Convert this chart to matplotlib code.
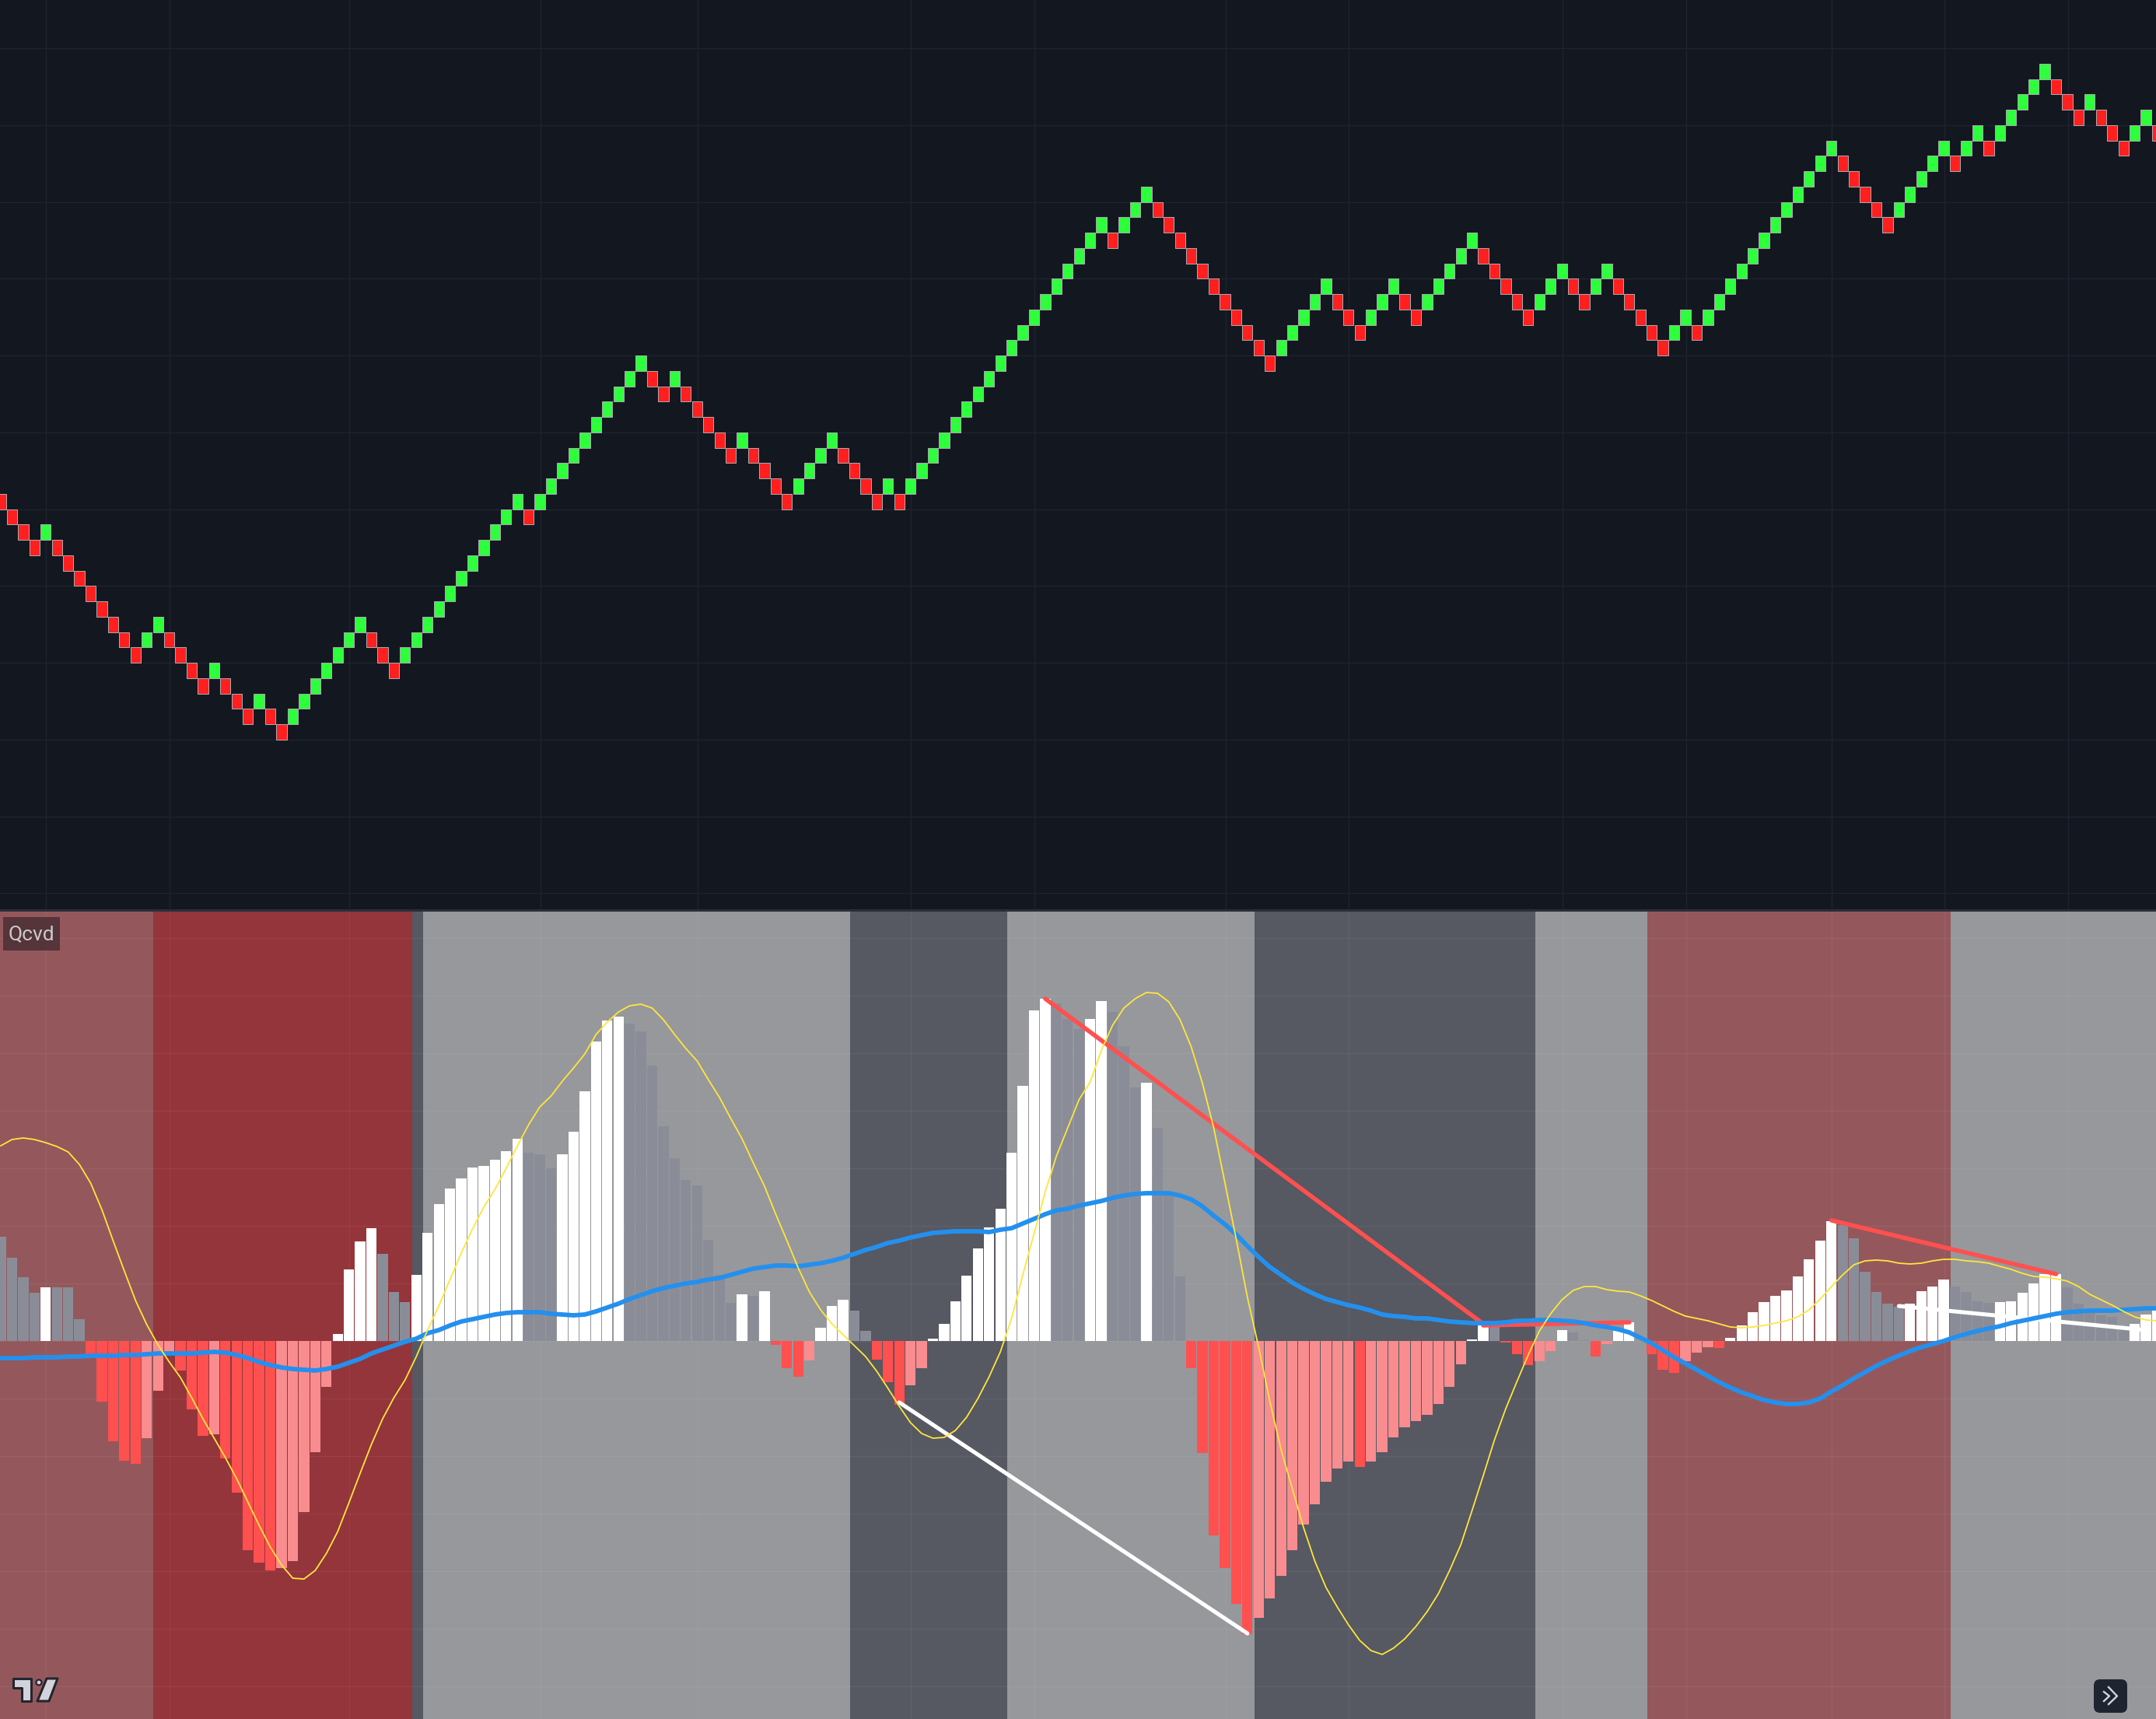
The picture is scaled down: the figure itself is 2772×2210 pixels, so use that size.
import matplotlib
matplotlib.use('Agg')
import matplotlib.pyplot as plt
from matplotlib.patches import Polygon, Circle, FancyBboxPatch, Rectangle
import numpy as np

# renko rows, counted downward from the first brick
renko_rows = [0, 1, 2, 3, 2, 3, 4, 5, 6, 7,
              8, 9, 10, 9, 8, 9, 10, 11, 12, 11,
              12, 13, 14, 13, 14, 15, 14, 13, 12, 11,
              10, 9, 8, 9, 10, 11, 10, 9, 8, 7,
              6, 5, 4, 3, 2, 1, 0, 1, 0, -1,
              -2, -3, -4, -5, -6, -7, -8, -9, -8, -7,
              -8, -7, -6, -5, -4, -3, -4, -3, -2, -1,
              0, -1, -2, -3, -4, -3, -2, -1, 0, -1,
              0, -1, -2, -3, -4, -5, -6, -7, -8, -9,
              -10, -11, -12, -13, -14, -15, -16, -17, -18, -17,
              -18, -19, -20, -19, -18, -17, -16, -15, -14, -13,
              -12, -11, -10, -9, -10, -11, -12, -13, -14, -13,
              -12, -11, -12, -13, -14, -13, -12, -13, -14, -15,
              -16, -17, -16, -15, -14, -13, -12, -13, -14, -15,
              -14, -13, -14, -15, -14, -13, -12, -11, -10, -11,
              -12, -11, -12, -13, -14, -15, -16, -17, -18, -19,
              -20, -21, -22, -23, -22, -21, -20, -19, -18, -19,
              -20, -21, -22, -23, -22, -23, -24, -23, -24, -25,
              -26, -27, -28, -27, -26, -25, -26, -25, -24, -23,
              -24, -25, -24]

# histogram of the Qcvd pane
hist_vals = [134, 107, 82, 62, 69, 69, 69, 28, -20, -78,
             -129, -154, -158, -125, -64, -16, -38, -88, -122, -120,
             -151, -195, -269, -285, -295, -292, -283, -220, -143, -59,
             9, 92, 128, 145, 112, 63, 50, 85, 139, 176,
             196, 209, 223, 225, 233, 244, 260, 242, 240, 222,
             240, 269, 321, 385, 412, 417, 408, 398, 354, 276,
             235, 207, 200, 130, 85, 49, 60, 58, 64, -5,
             -35, -46, -25, 17, 45, 53, 39, 13, -24, -53,
             -82, -57, -35, 3, 22, 51, 84, 119, 146, 170,
             242, 328, 425, 440, 434, 414, 401, 414, 437, 423,
             379, 326, 332, 274, 190, 83, -35, -144, -250, -292,
             -338, -377, -356, -331, -302, -269, -236, -210, -181, -164,
             -155, -162, -155, -143, -124, -111, -103, -95, -81, -59,
             -30, 2, 20, 18, -2, -17, -31, -26, -13, 14,
             11, 1, -20, -4, 14, 24, 0, -17, -37, -41,
             -26, -15, -8, -9, 4, 20, 37, 50, 58, 65,
             83, 105, 129, 154, 149, 132, 89, 63, 48, 44,
             48, 64, 70, 79, 70, 63, 51, 49, 50, 51,
             62, 74, 86, 86, 69, 48, 37, 33, 31, 15,
             22, 34, 40]

# w white, g grey, r red, l light red
hist_kinds = ('g' * 4 + 'w' + 'g' * 3 + 'r' * 5 + 'l' * 3 + 'r' * 3 + 'l' + 'r' * 5 + 'l' * 5
              + 'w' * 4 + 'g' * 3 + 'w' * 10 + 'g' * 3 + 'w' * 6 + 'g' * 10 + 'w' + 'g' + 'w'
              + 'r' * 3 + 'l' + 'w' * 3 + 'g' * 2 + 'r' * 3 + 'l' * 2 + 'w' * 11 + 'g' * 3
              + 'w' * 2 + 'g' * 3 + 'w' + 'g' * 3 + 'r' * 6 + 'l' * 9 + 'r' + 'l' * 9
              + 'w' * 2 + 'g' + 'r' * 3 + 'l' * 2 + 'w' + 'g' * 2 + 'r' + 'l' + 'w' * 2 + 'g'
              + 'r' * 3 + 'l' * 3 + 'r' + 'w' * 10 + 'g' * 6 + 'w' * 4 + 'g' * 4 + 'w' * 6
              + 'g' * 6 + 'w' * 3)

yellow_vals = [251, 259, 261, 259, 255, 250, 243, 227, 203, 169,
               129, 90, 52, 21, -5, -27, -47, -73, -100, -125,
               -150, -177, -207, -237, -265, -288, -305, -306, -295, -273,
               -245, -208, -170, -133, -100, -73, -50, -20, 14, 45,
               79, 113, 144, 172, 195, 222, 251, 278, 301, 315,
               334, 351, 369, 394, 410, 423, 431, 433, 428, 413,
               394, 376, 360, 336, 313, 286, 260, 229, 199, 163,
               129, 94, 63, 40, 22, 8, -6, -20, -39, -61,
               -84, -105, -119, -125, -124, -115, -98, -74, -46, -14,
               29, 85, 138, 192, 238, 274, 310, 333, 374, 406,
               428, 440, 448, 447, 436, 413, 378, 331, 274, 203,
               131, 56, -8, -78, -140, -190, -240, -283, -317, -342,
               -365, -385, -398, -403, -395, -383, -367, -348, -325, -295,
               -262, -218, -173, -127, -87, -52, -18, 13, 35, 53,
               65, 70, 70, 66, 64, 63, 58, 52, 45, 38,
               32, 29, 26, 22, 18, 17, 18, 20, 23, 26,
               31, 40, 54, 70, 85, 98, 103, 104, 103, 100,
               99, 100, 103, 105, 105, 103, 102, 100, 96, 92,
               87, 83, 82, 80, 77, 70, 60, 53, 46, 38,
               31, 27, 26]

blue_vals = [-22, -22, -22, -21, -21, -21, -20, -20, -19, -19,
             -19, -18, -18, -17, -16, -16, -16, -16, -15, -14,
             -15, -18, -22, -27, -31, -34, -36, -37, -38, -36,
             -33, -28, -23, -16, -11, -6, -1, 3, 10, 14,
             20, 25, 28, 31, 34, 36, 37, 37, 37, 35,
             34, 33, 34, 38, 43, 48, 54, 59, 64, 68,
             71, 74, 76, 79, 81, 85, 89, 93, 95, 97,
             97, 96, 98, 100, 103, 107, 112, 117, 121, 126,
             129, 133, 136, 139, 140, 141, 141, 141, 140, 143,
             145, 151, 157, 163, 168, 170, 174, 177, 180, 184,
             187, 189, 190, 190, 190, 187, 182, 173, 161, 150,
             137, 122, 108, 95, 85, 75, 67, 60, 54, 50,
             46, 43, 39, 34, 32, 31, 29, 29, 27, 25,
             24, 23, 23, 23, 24, 26, 26, 27, 27, 26,
             25, 23, 20, 18, 15, 11, 4, -3, -12, -21,
             -29, -37, -45, -53, -60, -66, -71, -76, -79, -81,
             -81, -79, -74, -65, -57, -48, -40, -32, -25, -19,
             -13, -8, -4, 0, 5, 9, 13, 16, 19, 23,
             26, 29, 32, 35, 37, 38, 39, 39, 39, 40,
             41, 42, 42]

# divergence lines: (bar, value, bar, value)
red_lines = [(93, 440, 132, 22), (132, 20, 145, 24), (163, 155, 183, 86)]
white_lines = [(80, -79, 111, -376), (169, 45, 191, 14)]

# background zones in bar units
zone_edges = [13.6, 36.6, 37.6, 75.6, 89.6, 111.6, 136.6, 146.6, 173.6]
zone_colors = ['#94585c', '#93353b', '#565862', '#97989c', '#565862',
               '#97989c', '#565862', '#97989c', '#94585c', '#97989c']

grid_bars = [4, 15, 31, 48, 62, 81, 92, 109, 120, 139, 150, 163, 173, 184]
top_grid_rows = [-29.5, -24.5, -19.5, -14.5, -9.5, -4.5, 0.5, 5.5, 10.5, 15.5, 20.5, 25.5]
low_grid_vals = [518, 444, 370, 296, 222, 148, 74, 0, -74, -148, -222, -296, -370, -444]

kind_colors = {'w': '#ffffff', 'g': '#8a8d97', 'r': '#ff5050', 'l': '#f88c8f'}

W, H = 2772, 2210
PITCH = 14.44
PANE_Y = 1172

xs = np.arange(len(hist_vals))
xlim = (-1 / PITCH, (W - 1) / PITCH)

fig = plt.figure(figsize=(W / 100, H / 100), dpi=100, facecolor='#2a2e39')

# upper pane, renko bricks
ax1 = fig.add_axes([0, 1 - 1169 / H, 1, 1169 / H], facecolor='#13171f')
rows = np.array(renko_rows)
brick_colors = ['#ff1f1f'] + ['#2dff3c' if d < 0 else '#ff1f1f' for d in np.diff(rows)]
for g in grid_bars:
    ax1.axvline(g + 0.04, color='#1f2430', lw=0.9, zorder=1)
for r in top_grid_rows:
    ax1.axhline(r, color='#1f2430', lw=0.9, zorder=1)
ax1.bar(np.arange(len(rows)), np.ones(len(rows)), bottom=rows - 0.5, width=0.92,
        color=brick_colors, edgecolor='#a8a9ae', linewidth=0.75, zorder=3)
ax1.set_xlim(*xlim)
ax1.set_ylim(26.55, -32.64)
ax1.set_xticks([])
ax1.set_yticks([])
for s in ax1.spines.values():
    s.set_visible(False)

# lower pane, Qcvd
ax2 = fig.add_axes([0, 0, 1, (H - PANE_Y) / H])
edges = [xlim[0]] + zone_edges + [xlim[1]]
for i in range(len(zone_colors)):
    ax2.axvspan(edges[i], edges[i + 1], color=zone_colors[i], lw=0, zorder=0)
for g in grid_bars:
    ax2.axvline(g + 0.04, color='white', alpha=0.05, lw=0.9, zorder=1)
for v in low_grid_vals:
    ax2.axhline(v, color='white', alpha=0.06, lw=0.9, zorder=1)

bar_colors = [kind_colors[k] for k in hist_kinds]
ax2.bar(xs, hist_vals, width=0.92, color=bar_colors, linewidth=0, zorder=2)

for x0, y0, x1, y1 in white_lines:
    ax2.plot([x0, x1], [y0, y1], color='white', lw=3.7, solid_capstyle='round', zorder=3)
for x0, y0, x1, y1 in red_lines:
    ax2.plot([x0, x1], [y0, y1], color='#ff5050', lw=4.0, solid_capstyle='round', zorder=3)
ax2.plot(xs, blue_vals, color='#2490ee', lw=4.2, zorder=4)
ax2.plot(xs, yellow_vals, color='#ffe63b', lw=1.3, zorder=5)

ax2.set_xlim(*xlim)
ax2.set_ylim(1724 - H, 1724 - PANE_Y)
ax2.set_xticks([])
ax2.set_yticks([])
for s in ax2.spines.values():
    s.set_visible(False)

# overlay in pixel coordinates: legend tag, logo, scroll button
ov = fig.add_axes([0, 0, 1, 1], facecolor='none')
ov.set_xlim(0, W)
ov.set_ylim(H, 0)
ov.axis('off')

ov.add_patch(Rectangle((4, 1179), 73, 43, facecolor='#553539', edgecolor='none'))
ov.text(40.5, 1201, 'Qcvd', color='#c9c9ce', fontsize=19, family='Roboto',
        ha='center', va='center')

logo_style = dict(facecolor='#d1d4dc', edgecolor='#23252e', lw=2.2, joinstyle='round')
ov.add_patch(Polygon([(17, 2158), (40, 2158), (40, 2187), (28, 2187), (28, 2170), (17, 2170)], **logo_style))
ov.add_patch(Polygon([(60, 2158), (74, 2158), (63, 2187), (48, 2187)], **logo_style))
ov.add_patch(Circle((50, 2163), 3.5, facecolor='#d1d4dc', edgecolor='#23252e', lw=1.6))

ov.add_patch(FancyBboxPatch((2698, 2165), 31, 31, boxstyle='round,pad=6,rounding_size=8',
                            facecolor='#1f2530', edgecolor='none'))
ov.plot([2705, 2712, 2705], [2175, 2180.5, 2187], color='#d1d4dc', lw=1.7)
ov.plot([2711, 2722, 2711], [2169, 2180.5, 2191], color='#d1d4dc', lw=1.7)

fig.savefig('out.png', dpi=100, facecolor=fig.get_facecolor())
